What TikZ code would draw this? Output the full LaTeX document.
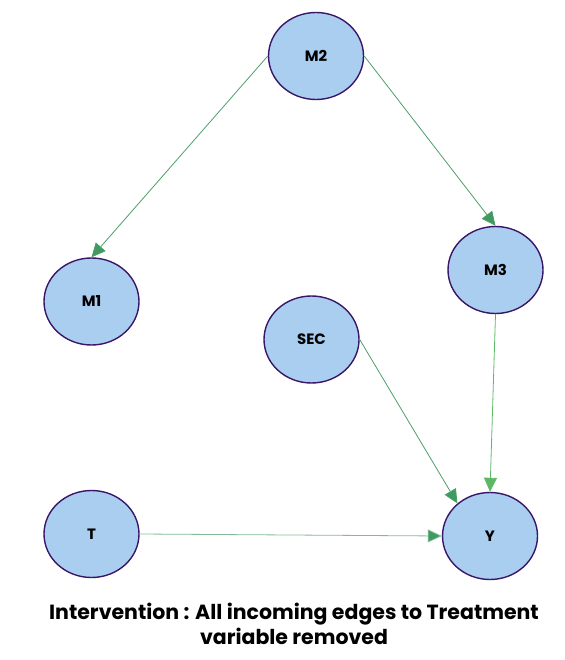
\documentclass[tikz,border=0pt]{standalone}
\usepackage{fontspec}
\setmainfont{Poppins}
\usepackage{tikz}
\usetikzlibrary{arrows.meta}
\usetikzlibrary{positioning}
\usetikzlibrary{shapes}

\definecolor{nodefill}{HTML}{A9CEF0}
\definecolor{nodeline}{HTML}{3A1668}
\definecolor{edgegreen}{HTML}{4E9E6A}
\definecolor{tipgreen}{HTML}{3F9A60}
\definecolor{lightgreen}{HTML}{5DB866}

\begin{document}
\begin{tikzpicture}[x=1pt,y=-1pt,auto]
						\tikzstyle{var} = [ellipse, draw=nodeline, line width=1.4pt, fill=nodefill, minimum width=95pt, minimum height=87pt, inner sep=0pt, font=\fontsize{15}{17}\selectfont\bfseries]
						\tikzstyle{edge} = [draw=edgegreen, line width=0.8pt, -{Triangle[length=14pt,width=13pt,fill=tipgreen]}]
						\useasboundingbox (0,0) rectangle (564,660);
						\node [var] (m2) at (316,56) {M2};
						\node [var] (m1) at (91.5,301.5) {M1};
						\node [var] (m3) at (495.5,270) {M3};
						\node [var] (sec) at (311.5,339.5) {SEC};
						\node [var] (t) at (91.5,534) {T};
						\node [var] (y) at (490,536) {Y};
						\draw [edge] (m2.west) -- (m1.north);
						\draw [edge] (m2.east) -- (m3.north);
						\draw [edge] (sec.east) -- (y.135);
						\draw [edge, draw=lightgreen, -{Triangle[length=14pt,width=13pt,fill=lightgreen]}] (m3.south) -- (y.north);
						\draw [edge, draw=edgegreen!70!white] (t.east) -- (y.west);
						\node [align=center, font=\fontsize{20.5}{25}\selectfont\bfseries] (caption) at (294,624) {Intervention : All incoming edges to Treatment\\variable removed};
					\end{tikzpicture}
\end{document}
